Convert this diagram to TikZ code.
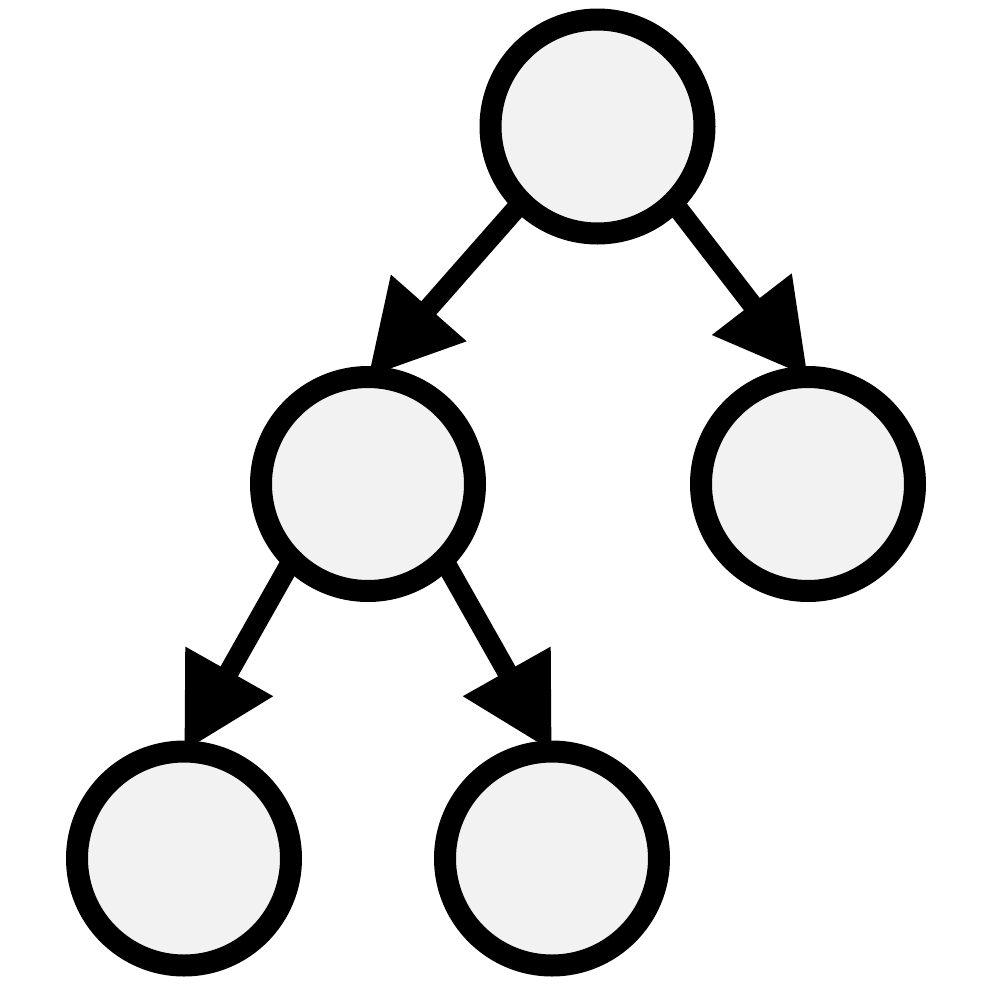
\documentclass[tikz,border=0pt]{standalone}
\usetikzlibrary{arrows.meta}
\definecolor{nodefill}{HTML}{F2F2F2}
\tikzset{
  treenode/.style={circle, draw=black, fill=nodefill, line width=22pt,
    minimum size=214pt, inner sep=0pt, outer sep=0pt},
  treeedge/.style={line width=20pt, -{Triangle[length=92pt,width=95pt]}}
}
\begin{document}
\begin{tikzpicture}[x=1pt,y=-1pt]
  \useasboundingbox (0,0) rectangle (986,986);
  \node[treenode] (t)  at (597.5,126.5) {};
  \node[treenode] (l)  at (368,484) {};
  \node[treenode] (r)  at (808,484) {};
  \node[treenode] (bl) at (184,858.5) {};
  \node[treenode] (bm) at (552,858.5) {};
  \draw[treeedge] (t.225) -- (l.90);
  \draw[treeedge] (t.315) -- (r.90);
  \draw[treeedge] (l.225) -- (bl.90);
  \draw[treeedge] (l.315) -- (bm.90);
\end{tikzpicture}
\end{document}
